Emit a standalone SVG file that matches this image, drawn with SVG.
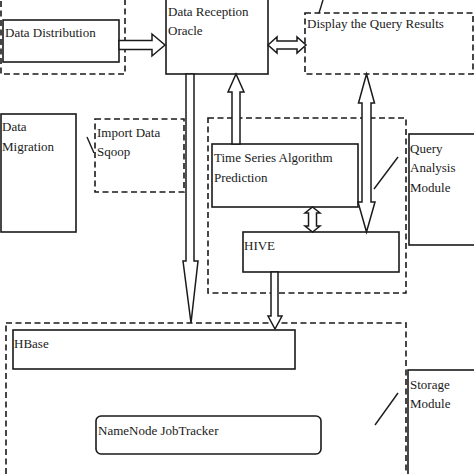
<svg xmlns="http://www.w3.org/2000/svg" width="474" height="474" viewBox="0 0 474 474">
<style>
.box{fill:#fff;stroke:#1a1a1a;stroke-width:1.6}
.dash{fill:none;stroke:#1a1a1a;stroke-width:1.6;stroke-dasharray:6 3.5}
.arr{fill:#fff;stroke:#1a1a1a;stroke-width:1.5;stroke-linejoin:miter}
.lead{stroke:#1a1a1a;stroke-width:1.4;fill:none}
text{font-family:"Liberation Serif","Times New Roman",serif;font-size:13px;fill:#1a1a1a}
</style>
<rect width="474" height="474" fill="#fff"/>
<g id="distribution-module">
<rect class="dash" x="1" y="-10" width="124" height="84"/>
</g>
<g id="data-distribution">
<rect class="box" x="3" y="20" width="116" height="42"/>
<text x="5" y="37">Data Distribution</text>
</g>
<g id="data-reception">
<rect class="box" x="166" y="-5" width="102" height="79"/>
<text x="168" y="16">Data Reception</text>
<text x="168" y="35">Oracle</text>
</g>
<g id="display-results">
<rect class="dash" x="305" y="13" width="168" height="61"/>
<text x="307" y="28">Display the Query Results</text>
</g>
<g id="data-migration">
<rect class="box" x="1" y="114" width="75" height="118"/>
<text x="2" y="131">Data</text>
<text x="2" y="151">Migration</text>
</g>
<g id="import-data">
<rect class="dash" x="95" y="119" width="89" height="73"/>
<text x="97" y="137">Import Data</text>
<text x="97" y="156">Sqoop</text>
</g>
<g id="query-container">
<rect class="dash" x="208" y="118" width="198" height="175"/>
</g>
<g id="time-series">
<rect class="box" x="212" y="144" width="146" height="63"/>
<text x="214" y="162">Time Series Algorithm</text>
<text x="214" y="182">Prediction</text>
</g>
<g id="hive">
<rect class="box" x="243" y="232" width="156" height="40"/>
<text x="244" y="250">HIVE</text>
</g>
<g id="query-analysis-module">
<rect class="box" x="409" y="134" width="70" height="111"/>
<text x="410" y="153">Query</text>
<text x="410" y="172">Analysis</text>
<text x="410" y="192">Module</text>
</g>
<g id="storage-container">
<rect class="dash" x="6" y="323" width="400" height="160"/>
</g>
<g id="hbase">
<rect class="box" x="13" y="330" width="282" height="39"/>
<text x="14" y="348">HBase</text>
</g>
<g id="namenode">
<rect class="box" x="96" y="416" width="225" height="38" rx="5"/>
<text x="98" y="435">NameNode JobTracker</text>
</g>
<g id="storage-module">
<rect class="box" x="408" y="370" width="70" height="110"/>
<text x="410" y="389">Storage</text>
<text x="410" y="408">Module</text>
</g>
<g id="connectors">
<polygon class="arr" points="119,40.5 152,40.5 152,34 165,45 152,56 152,49.5 119,49.5"/>
<polygon class="arr" points="268,45 277,37 277,41 297,41 297,37 306,45 297,53 297,49 277,49 277,53"/>
<polygon class="arr" points="186,74 194,74 194,261 198,261 191,323 183,261 186,261"/>
<polygon class="arr" points="232,144 232,92 228,92 236,74 244,92 240,92 240,144"/>
<polygon class="arr" points="366.5,74 374.5,103 371,103 371,202 375,202 366.5,232 358,202 362,202 362,103 358.5,103"/>
<polygon class="arr" points="312.5,207 320,213 316.5,213 316.5,226 320,226 312.5,232 305,226 308.5,226 308.5,213 305,213"/>
<polygon class="arr" points="271,272 278,272 278,316 282,316 275,329 268,316 271,316"/>
<line class="lead" x1="319" y1="13" x2="323" y2="0"/>
<line class="lead" x1="87" y1="137" x2="94" y2="153"/>
<line class="lead" x1="398" y1="157" x2="374" y2="189"/>
<line class="lead" x1="398" y1="393" x2="375" y2="425"/>
</g>
</svg>
